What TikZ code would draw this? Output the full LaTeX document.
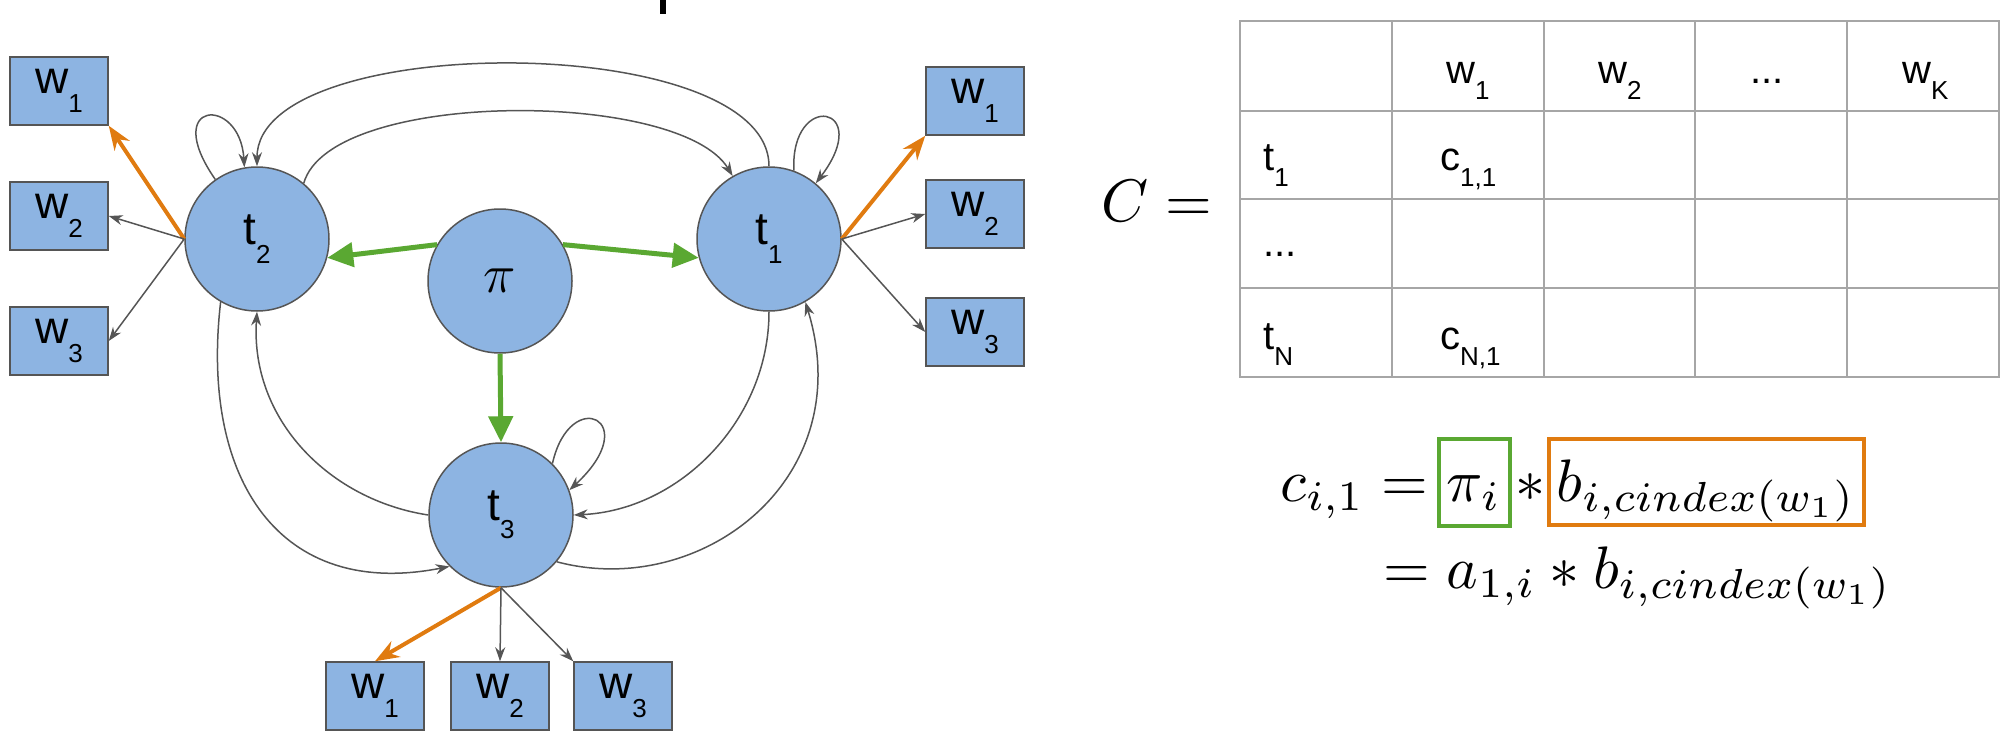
\documentclass[tikz,border=0pt]{standalone}
\usepackage{fontspec}
\setmainfont{Liberation Sans}
\usetikzlibrary{arrows.meta}
\newcommand{\subx}[1]{\raisebox{-0.4em}{\fontsize{26}{26}\selectfont #1}}
\definecolor{nodeblue}{HTML}{8DB4E2}
\definecolor{grn}{HTML}{5AA832}
\definecolor{org}{HTML}{E07B10}
\definecolor{edg}{HTML}{555555}
\begin{document}
\begin{tikzpicture}[x=1pt,y=-1pt,
  st/.style={circle,draw=edg,line width=1.5pt,fill=nodeblue,minimum size=144pt,inner sep=0pt,font=\fontsize{46}{46}\selectfont},
  bx/.style={draw=edg,line width=1.5pt,fill=nodeblue,minimum width=98pt,minimum height=68pt,inner sep=0pt,font=\fontsize{46}{46}\selectfont},
  ga/.style={draw=edg,line width=1.5pt,-{Stealth[length=14pt,width=10pt]}},
  gr/.style={draw=grn,line width=5pt,-{Triangle[length=26pt,width=24pt]}},
  og/.style={draw=org,line width=4pt,-{Stealth[length=24pt,width=18pt]}},
  tt/.style={font=\fontsize{40}{40}\selectfont,anchor=base west,inner sep=0pt},
  mt/.style={inner sep=0pt,anchor=base}]
\useasboundingbox (0,0) rectangle (2008,736);
\fill[black] (660,0) rectangle (666,14);
% states
\node[st] (t2) at (257,239) {t\subx{2}};
\node[st] (pi) at (500,281) {\scalebox{2.2}{$\pi$}};
\node[st] (t1) at (769,239) {t\subx{1}};
\node[st] (t3) at (501,515) {t\subx{3}};
% boxes
\node[bx] (lw1) at (59,91) {w\subx{1}};
\node[bx] (lw2) at (59,216) {w\subx{2}};
\node[bx] (lw3) at (59,341) {w\subx{3}};
\node[bx] (rw1) at (975,101) {w\subx{1}};
\node[bx] (rw2) at (975,214) {w\subx{2}};
\node[bx] (rw3) at (975,332) {w\subx{3}};
\node[bx] (bw1) at (375,696) {w\subx{1}};
\node[bx] (bw2) at (500,696) {w\subx{2}};
\node[bx] (bw3) at (623,696) {w\subx{3}};
% green
\draw[gr] (pi.150) -- (t2.-15);
\draw[gr] (pi.30) -- (t1.195);
\draw[gr] (pi.south) -- (t3.north);
% self loops
\draw[ga] (t2.125) .. controls (160,100) and (240,95) .. (t2.100);
\draw[ga] (t1.70) .. controls (790,90) and (875,105) .. (t1.50);
\draw[ga] (t3.45) .. controls (570,385) and (645,420) .. (t3.20);
% transitions
\draw[ga] (t1.90) .. controls (769,30) and (257,30) .. (t2.90);
\draw[ga] (t2.50) .. controls (330,89) and (680,89) .. (t1.120);
\draw[ga] (t2.240) .. controls (200,480) and (280,600) .. (t3.225);
\draw[ga] (t3.180) .. controls (330,500) and (250,420) .. (t2.270);
\draw[ga] (t1.270) .. controls (769,420) and (680,510) .. (t3.0);
\draw[ga] (t3.320) .. controls (700,600) and (860,480) .. (t1.300);
% emissions
\draw[og] (t2.180) -- (lw1.south east);
\draw[ga] (t2.180) -- (lw2.east);
\draw[ga] (t2.180) -- (lw3.east);
\draw[og] (t1.0) -- (rw1.south west);
\draw[ga] (t1.0) -- (rw2.west);
\draw[ga] (t1.0) -- (rw3.west);
\draw[og] (t3.south) -- (bw1.north);
\draw[ga] (t3.south) -- (bw2.north);
\draw[ga] (t3.south) -- (bw3.north west);
% table
\draw[gray!70,line width=1.5pt] (1240,21) rectangle (1999,377);
\foreach \x in {1392,1544,1695,1847} \draw[gray!70,line width=1.5pt] (\x,21) -- (\x,377);
\foreach \y in {111,199,288} \draw[gray!70,line width=1.5pt] (1240,\y) -- (1999,\y);
\node[tt] (h1) at (1446,83) {w\subx{1}};
\node[tt] (h2) at (1598,83) {w\subx{2}};
\node[tt] (h3) at (1750,83) {...};
\node[tt] (h4) at (1902,83) {w\subx{K}};
\node[tt] (r1) at (1263,170) {t\subx{1}};
\node[tt] (c11) at (1440,170) {c\subx{1,1}};
\node[tt] (r2) at (1263,256) {...};
\node[tt] (r3) at (1263,349) {t\subx{N}};
\node[tt] (cn1) at (1440,349) {c\subx{N,1}};
\node[anchor=base east,inner sep=0pt] (C) at (1212,221) {\scalebox{6}{$C=$}};
% formula
\node[mt,anchor=base east] (f1a) at (1428,501) {\scalebox{6}{$c_{i,1}=$}};
\node[mt] (f1b) at (1474,501) {\scalebox{6}{$\pi_i$}};
\node[mt] (f1c) at (1530,501) {\scalebox{6}{$*$}};
\node[mt] (f1d) at (1706,501) {\scalebox{6}{$b_{i,cindex(w_1)}$}};
\node[mt,anchor=base west] (f2) at (1383,588) {\scalebox{6}{$=a_{1,i}*b_{i,cindex(w_1)}$}};
\draw[grn,line width=4pt] (1439,439) rectangle (1510,526);
\draw[org,line width=4pt] (1549,439) rectangle (1864,525);
\end{tikzpicture}
\end{document}
